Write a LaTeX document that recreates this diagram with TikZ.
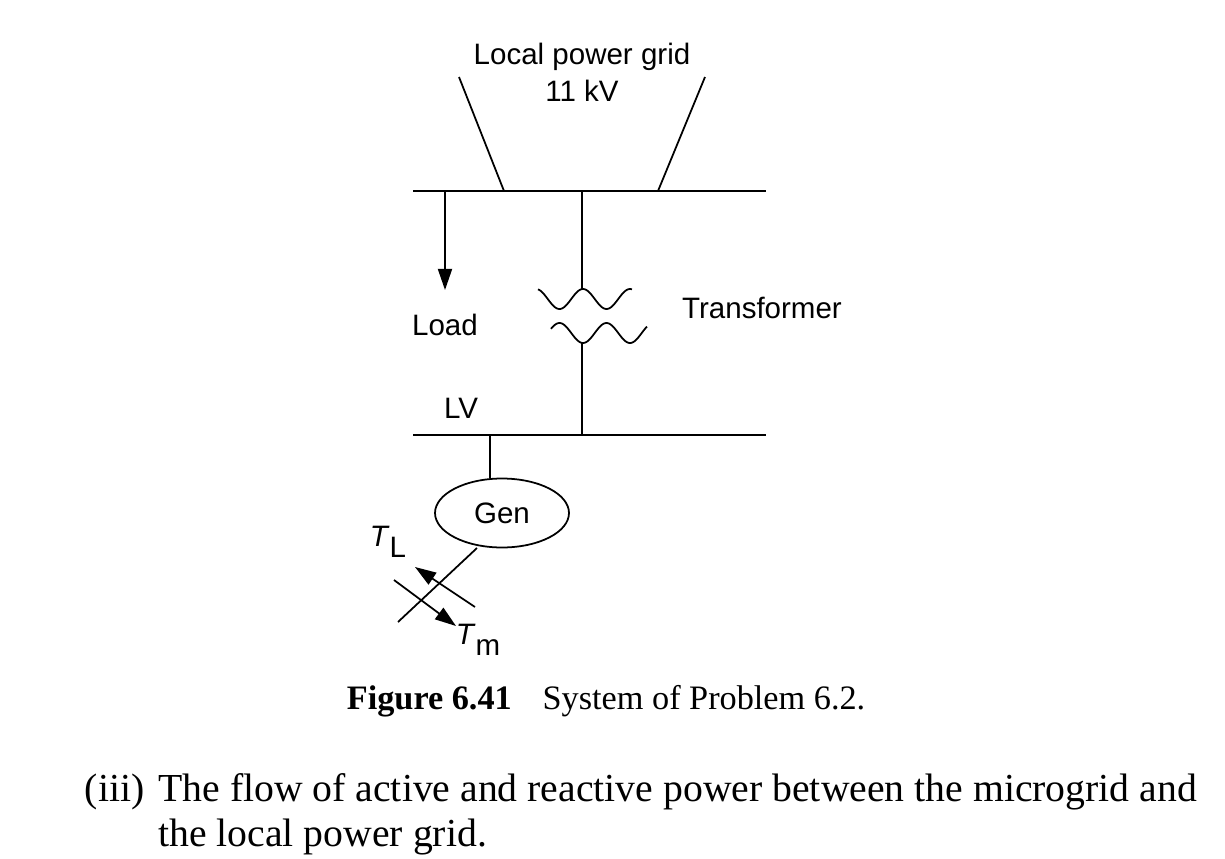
\documentclass[tikz,border=0pt]{standalone}
\usepackage{fontspec}
\setmainfont{Liberation Serif}
\newfontfamily\lsans{Liberation Sans}
\usetikzlibrary{arrows.meta,shapes.geometric}
\begin{document}
\begin{tikzpicture}[x=0.02cm,y=-0.02cm,line width=1pt,
  lbl/.style={font=\lsans\fontsize{16.8}{19}\selectfont,inner sep=0},
  arr/.style={-{Triangle[length=12pt,width=8pt]}}]
\useasboundingbox (0,0) rectangle (1225,859);
\node[lbl,align=center] (grid) at (582,72) {Local power grid\\[2pt]11 kV};
\coordinate (g1) at (459,77); \coordinate (g1b) at (504,191);
\coordinate (g2) at (705,77); \coordinate (g2b) at (658,191);
\draw (g1)--(g1b) (g2)--(g2b);
\coordinate (hvL) at (413,191); \coordinate (hvR) at (766,191);
\draw (hvL)--(hvR);
\coordinate (la) at (445,191); \coordinate (lb) at (445,290);
\draw[arr] (la)--(lb);
\node[lbl] (load) at (445,325) {Load};
\coordinate (t1) at (582,191); \coordinate (t1b) at (582,289);
\draw (t1)--(t1b);
\draw plot[domain=538:632,samples=80,smooth] (\x,{299-10*cos((\x-583)/47*360)});
\draw plot[domain=551:647,samples=80,smooth] (\x,{333+10*cos((\x-583)/47*360)});
\coordinate (t2) at (582,343); \coordinate (t2b) at (582,435);
\draw (t2)--(t2b);
\node[lbl] (tr) at (762,308) {Transformer};
\coordinate (lvL) at (413,435); \coordinate (lvR) at (766,435);
\draw (lvL)--(lvR);
\node[lbl] (lv) at (461,408) {LV};
\node[draw,ellipse,minimum width=2.68cm,minimum height=1.38cm,inner sep=0,font=\lsans\fontsize{16.8}{19}\selectfont] (gen) at (502,513) {Gen};
\coordinate (ga) at (490,435);
\draw (ga)--(gen.north -| ga);
\coordinate (s1) at (477,548); \coordinate (s2) at (398,622);
\draw (s1)--(s2);
\coordinate (a1) at (475,607); \coordinate (a2) at (415,567);
\draw[arr] (a1)--(a2);
\coordinate (b1) at (394,580); \coordinate (b2) at (456,626);
\draw[arr] (b1)--(b2);
\node[lbl] (tl) at (388,542) {\textit{T}\raisebox{-0.7ex}{L}};
\node[lbl] (tm) at (478,640) {\textit{T}\raisebox{-0.7ex}{m}};
\node[anchor=west,inner sep=0,font=\fontsize{19.5}{23}\selectfont] (cap) at (346,701) {\textbf{Figure 6.41}\hspace{0.9em}System of Problem 6.2.};
\node[anchor=north west,inner sep=0,align=left,font=\fontsize{22.6}{25.5}\selectfont] (q) at (84,773) {(iii)\hspace{0.35em}The flow of active and reactive power between the microgrid and\\\hphantom{(iii)\hspace{0.35em}}the local power grid.};
\end{tikzpicture}
\end{document}
